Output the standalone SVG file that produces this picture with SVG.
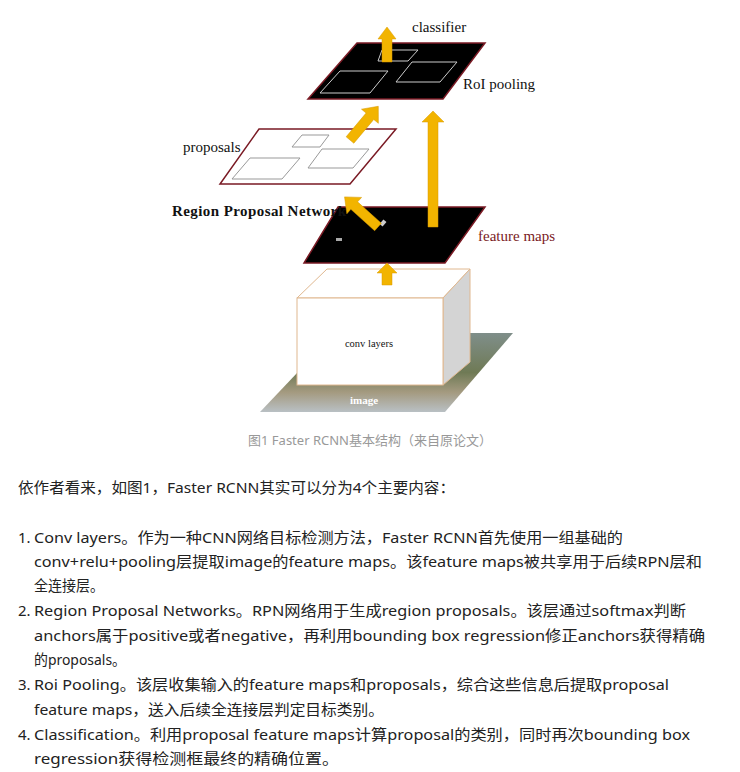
<svg xmlns="http://www.w3.org/2000/svg" width="740" height="772" viewBox="0 0 740 772">
<defs>
<style>
.serif{font-family:"Liberation Serif",serif;font-size:15px;fill:#111}
.body{font-family:"Noto Sans","Noto Sans CJK SC",sans-serif;font-size:15px;fill:#222}
.plane{stroke:#7a1a24;stroke-width:1.5}
.box{fill:none;stroke:#999;stroke-width:1}
.wbox{fill:none;stroke:#ccc;stroke-width:1}
.arrow{fill:#f2b400;stroke:#d89a00;stroke-width:0.5}
</style>
<linearGradient id="img" x1="0" y1="0" x2="0" y2="1">
<stop offset="0" stop-color="#7f8e8a"/><stop offset="0.5" stop-color="#6f7a55"/><stop offset="0.75" stop-color="#a49a80"/><stop offset="1" stop-color="#b9c0c4"/>
</linearGradient>
</defs>
<rect width="740" height="772" fill="#fff"/>
<g id="image">
<polygon points="335,333 513,333 445,412 260,412" fill="url(#img)"/>
<text x="364" y="404" text-anchor="middle" style="font-family:'Liberation Serif',serif;font-size:11px;font-weight:bold;fill:#fff">image</text>
</g>
<g id="conv">
<polygon points="297,298 327,269 470,269 443,298" fill="#fff" stroke="#e0b890"/>
<polygon points="443,298 470,269 470,362 443,385" fill="#d4d4d4" stroke="#e0b890"/>
<rect x="297" y="298" width="146" height="87" fill="#fff" stroke="#e0b890"/>
<text x="369" y="347" text-anchor="middle" style="font-family:'Liberation Serif',serif;font-size:10.5px;fill:#111">conv layers</text>
</g>
<g id="featuremaps">
<polygon class="plane" points="338,207 485,207 445,263 304,263" fill="#000"/>
<rect x="381" y="220" width="4" height="6" fill="#ccc" transform="rotate(40 383 223)"/>
<rect x="336" y="238" width="6" height="3" fill="#aaa"/>
<text x="478" y="241" style="font-family:'Liberation Serif',serif;font-size:15px;fill:#7a1a24">feature maps</text>
</g>
<g id="proposals">
<polygon class="plane" points="259,129 396,129 350,184 220,184" fill="#fff"/>
<polygon class="box" points="302,135 329,135 320,147 292,147"/>
<polygon class="box" points="322,149 369,149 353,168 308,168"/>
<polygon class="box" points="250,158 300,158 282,179 232,179"/>
<text class="serif" x="183" y="152">proposals</text>
</g>
<g id="roipooling">
<polygon class="plane" points="357,43 485,43 443,99 308,99" fill="#000"/>
<polygon class="wbox" points="382,50 418,50 408,61 378,61"/>
<polygon class="wbox" points="412,62 457,62 440,82 396,82"/>
<polygon class="wbox" points="340,71 388,71 370,93 320,93"/>
<text class="serif" x="463" y="89">RoI pooling</text>
</g>
<g id="labels">
<text class="serif" x="412" y="32">classifier</text>
<text x="172" y="216" style="font-family:'Liberation Serif',serif;font-size:15px;font-weight:bold;fill:#111" textLength="174">Region Proposal Network</text>
</g>
<g id="connectors">
<polygon class="arrow" points="382,285 392,285 392,273 397,273 387,263 377,273 382,273"/>
<polygon class="arrow" points="428,227 438,227 438,122 444,122 433,111 422,122 428,122"/>
<polygon class="arrow" points="387,62 382,62 382,39 378,39 387,27 396,39 392,39 392,62" />
<g transform="rotate(-48 378 227)"><polygon class="arrow" points="373,227 383,227 383,195 389,195 378,182 367,195 373,195"/></g>
<g transform="rotate(40 350 140)"><polygon class="arrow" points="345,140 355,140 355,109 361,109 350,96 339,109 345,109"/></g>
</g>
<g id="caption">
<text x="370" y="445" text-anchor="middle" style="font-family:'Noto Sans','Noto Sans CJK SC',sans-serif;font-size:13px;fill:#999">图1 Faster RCNN基本结构（来自原论文）</text>
</g>
<g id="body">
<text class="body" x="18" y="493" textLength="437" lengthAdjust="spacingAndGlyphs">依作者看来，如图1，Faster RCNN其实可以分为4个主要内容：</text>
<text class="body" x="18" y="543">1.</text><text class="body" x="34" y="543" textLength="589" lengthAdjust="spacingAndGlyphs">Conv layers。作为一种CNN网络目标检测方法，Faster RCNN首先使用一组基础的</text>
<text class="body" x="34" y="567" textLength="668" lengthAdjust="spacingAndGlyphs">conv+relu+pooling层提取image的feature maps。该feature maps被共享用于后续RPN层和</text>
<text class="body" x="34" y="591" textLength="70" lengthAdjust="spacingAndGlyphs">全连接层。</text>
<text class="body" x="18" y="616">2.</text><text class="body" x="34" y="616" textLength="652" lengthAdjust="spacingAndGlyphs">Region Proposal Networks。RPN网络用于生成region proposals。该层通过softmax判断</text>
<text class="body" x="34" y="641" textLength="671" lengthAdjust="spacingAndGlyphs">anchors属于positive或者negative，再利用bounding box regression修正anchors获得精确</text>
<text class="body" x="34" y="665" textLength="92" lengthAdjust="spacingAndGlyphs">的proposals。</text>
<text class="body" x="18" y="690">3.</text><text class="body" x="34" y="690" textLength="635" lengthAdjust="spacingAndGlyphs">Roi Pooling。该层收集输入的feature maps和proposals，综合这些信息后提取proposal</text>
<text class="body" x="34" y="715" textLength="350" lengthAdjust="spacingAndGlyphs">feature maps，送入后续全连接层判定目标类别。</text>
<text class="body" x="18" y="740">4.</text><text class="body" x="34" y="740" textLength="656" lengthAdjust="spacingAndGlyphs">Classification。利用proposal feature maps计算proposal的类别，同时再次bounding box</text>
<text class="body" x="34" y="764" textLength="305" lengthAdjust="spacingAndGlyphs">regression获得检测框最终的精确位置。</text>
</g>
</svg>
